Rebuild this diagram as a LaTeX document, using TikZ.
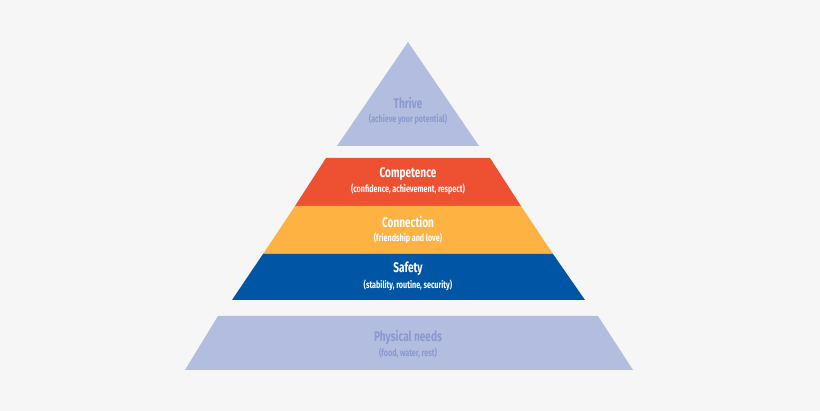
\documentclass[tikz,border=0pt]{standalone}
\usepackage{fontspec}
\setmainfont{Fira Sans}
\definecolor{lav}{HTML}{B3BDE0}
\definecolor{lavtxt}{HTML}{8B99CF}
\definecolor{cred}{HTML}{EE5131}
\definecolor{corg}{HTML}{FDB241}
\definecolor{cblu}{HTML}{0055A5}
\definecolor{bg}{HTML}{F6F6F6}
\newcommand{\pyrtitle}[1]{\scalebox{0.72}[1]{\fontsize{14}{14}\selectfont\bfseries #1}}
\newcommand{\pyrsub}[1]{\scalebox{0.72}[1]{\fontsize{10}{10}\selectfont\bfseries #1}}
\begin{document}
\begin{tikzpicture}[x=1pt,y=-1pt,lbl/.style={align=center,inner sep=0pt}]
\fill[bg] (0,0) rectangle (820,411);
\useasboundingbox (0,0) rectangle (820,411);
\fill[lav] (408,42) -- (479,146) -- (337,146) -- cycle;
\fill[cred] (326,158) -- (490,158) -- (521,206) -- (295,206) -- cycle;
\fill[corg] (295,206) -- (521,206) -- (553,254) -- (263,254) -- cycle;
\fill[cblu] (263,254) -- (553,254) -- (585,300) -- (232,300) -- cycle;
\fill[lav] (218,316) -- (598,316) -- (633,370) -- (185,370) -- cycle;
\node[lbl,text=lavtxt] (t1) at (408,103) {\pyrtitle{Thrive}};
\node[lbl,text=lavtxt] (s1) at (408,119) {\pyrsub{(achieve your potential)}};
\node[lbl,text=white] (t2) at (408,174) {\pyrtitle{Competence}};
\node[lbl,text=white] (s2) at (408,189) {\pyrsub{(confidence, achievement, respect)}};
\node[lbl,text=white] (t3) at (408,222) {\pyrtitle{Connection}};
\node[lbl,text=white] (s3) at (408,238) {\pyrsub{(friendship and love)}};
\node[lbl,text=white] (t4) at (408,269) {\pyrtitle{Safety}};
\node[lbl,text=white] (s4) at (408,285) {\pyrsub{(stability, routine, security)}};
\node[lbl,text=lavtxt] (t5) at (408,337) {\pyrtitle{Physical needs}};
\node[lbl,text=lavtxt] (s5) at (408,353) {\pyrsub{(food, water, rest)}};
\end{tikzpicture}
\end{document}
